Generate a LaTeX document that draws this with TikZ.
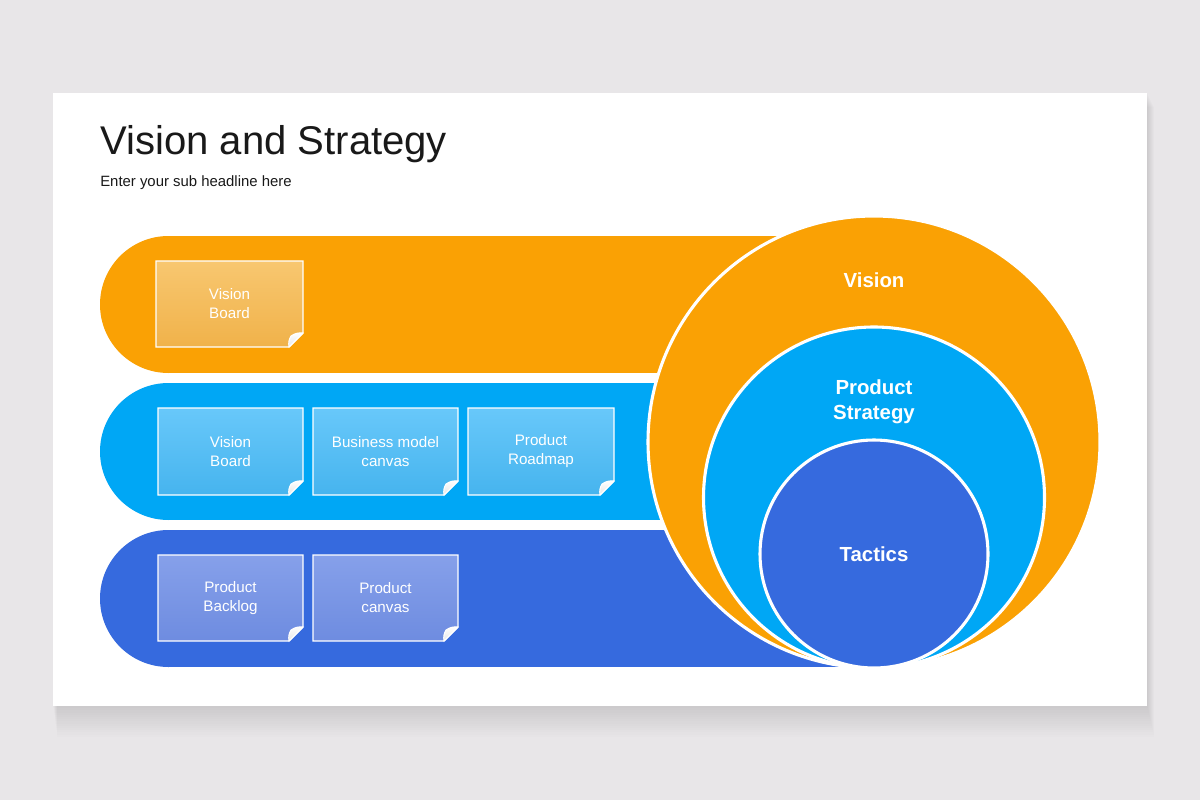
\documentclass[tikz,border=0pt]{standalone}
\usepackage{fontspec}
\setmainfont{Liberation Sans}
\definecolor{bggray}{RGB}{232,230,232}
\definecolor{vorange}{RGB}{250,161,4}
\definecolor{sblue}{RGB}{0,167,245}
\definecolor{tblue}{RGB}{54,106,222}
\definecolor{titlegray}{RGB}{25,25,25}
\tikzset{
    band/.style={draw=none},
    ring/.style={draw=white, line width=2.2pt},
    notetext/.style={text=white, font=\fontsize{10.8}{13.5}\selectfont, align=center},
    ringlabel/.style={text=white, font=\bfseries\fontsize{14.5}{18}\selectfont, align=center},
    orangenote/.style={draw=white, line width=1pt, top color={rgb,255:red,248;green,199;blue,112}, bottom color={rgb,255:red,240;green,178;blue,74}},
    bluenote/.style={draw=white, line width=1pt, top color={rgb,255:red,104;green,200;blue,250}, bottom color={rgb,255:red,70;green,180;blue,238}},
    darknote/.style={draw=white, line width=1pt, top color={rgb,255:red,134;green,160;blue,234}, bottom color={rgb,255:red,110;green,140;blue,224}},
    flap/.style={draw=white, line width=0.7pt, top color=white, bottom color=white!80!gray}
}
% sticky note: style, name, x1, y1, x2, y2, text
\newcommand{\stickynote}[7]{%
    \path[#1] (#3,#4) -- (#5,#4) -- (#5,#6-14) -- (#5-14,#6) -- (#3,#6) -- cycle;
    \path[flap] (#5,#6-14) to[bend right=20] (#5-12,#6-11) to[bend right=20] (#5-14,#6) -- cycle;
    \node[notetext] (#2) at ({(#3+#5)/2},{(#4+#6)/2}) {#7};
}
\begin{document}
\begin{tikzpicture}[x=0.025cm, y=-0.025cm]
    % page and slide
    \fill[bggray] (0,0) rectangle (1200,800);
    \useasboundingbox (0,0) rectangle (1200,800);
    \foreach \s in {1,...,14}
        \fill[black, opacity=0.009] (53+0.3*\s,93+\s) rectangle (1147+0.5*\s,706+2.2*\s);
    \fill[white] (53,93) rectangle (1147,706);

    % title
    \node[anchor=base west, inner sep=0pt, text=titlegray, font=\fontsize{28.5}{34}\selectfont] (title) at (100,155) {Vision and Strategy};
    \node[anchor=base west, inner sep=0pt, text=titlegray, font=\fontsize{10.6}{13}\selectfont] (subtitle) at (100,187) {Enter your sub headline here};

    % bands
    \fill[vorange] (168.5,304.5) circle[radius=68.5];
    \fill[vorange] (168.5,236) rectangle (874,373);
    \fill[sblue] (168.5,451.5) circle[radius=68.5];
    \fill[sblue] (168.5,383) rectangle (874,520);
    \fill[tblue] (168.5,598.5) circle[radius=68.5];
    \fill[tblue] (168.5,530) rectangle (874,667);

    % notes
    \stickynote{orangenote}{vboard}{156}{261}{303}{347}{Vision\\Board}
    \stickynote{bluenote}{svboard}{158}{408}{303}{495}{Vision\\Board}
    \stickynote{bluenote}{bmcanvas}{313}{408}{458}{495}{Business model\\canvas}
    \stickynote{bluenote}{roadmap}{468}{408}{614}{495}{Product\\Roadmap}
    \stickynote{darknote}{backlog}{158}{555}{303}{641}{Product\\Backlog}
    \stickynote{darknote}{pcanvas}{313}{555}{458}{641}{Product\\canvas}

    % circles
    \filldraw[ring, fill=vorange] (874,442) circle[radius=226];
    \filldraw[ring, fill=sblue] (874,497.5) circle[radius=170.5];
    \filldraw[ring, fill=tblue] (874,554) circle[radius=114];

    \node[ringlabel] (vision) at (874,280) {Vision};
    \node[ringlabel] (strategy) at (874,401.5) {Product\\Strategy};
    \node[ringlabel] (tactics) at (874,554) {Tactics};
\end{tikzpicture}
\end{document}
